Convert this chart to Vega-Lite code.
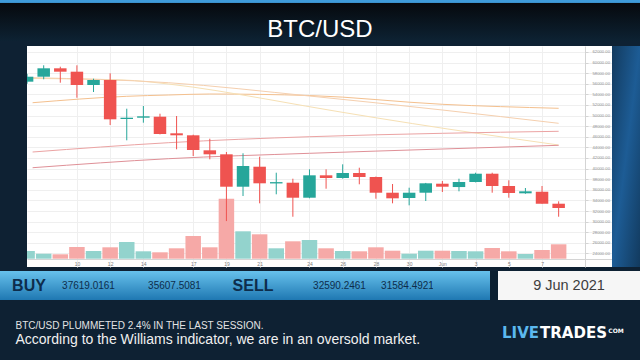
{
  "$schema": "https://vega.github.io/schema/vega-lite/v6.json",
  "background": "#0e2133",
  "padding": 0,
  "spacing": 4,
  "config": {"view": {"stroke": null}, "concat": {"spacing": 0}},
  "datasets": {
    "candles": [
      {"date": "2021-05-07", "open": 56400, "high": 57900, "low": 56000, "close": 57339, "volume": 15.4},
      {"date": "2021-05-08", "open": 57339, "high": 59490, "low": 56850, "close": 58924, "volume": 10},
      {"date": "2021-05-09", "open": 58924, "high": 59226, "low": 56207, "close": 58283, "volume": 8.8},
      {"date": "2021-05-10", "open": 58283, "high": 59490, "low": 53376, "close": 55773, "volume": 23.4},
      {"date": "2021-05-11", "open": 55773, "high": 56962, "low": 54452, "close": 56716, "volume": 15.4},
      {"date": "2021-05-12", "open": 56716, "high": 57980, "low": 48225, "close": 49300, "volume": 22.8},
      {"date": "2021-05-13", "open": 49357, "high": 51300, "low": 45338, "close": 49602, "volume": 33.4},
      {"date": "2021-05-14", "open": 49602, "high": 51810, "low": 48660, "close": 49866, "volume": 14.8},
      {"date": "2021-05-15", "open": 49791, "high": 50357, "low": 46450, "close": 46527, "volume": 12.8},
      {"date": "2021-05-16", "open": 46659, "high": 49922, "low": 43640, "close": 46282, "volume": 20.8},
      {"date": "2021-05-17", "open": 46282, "high": 46400, "low": 42375, "close": 43507, "volume": 45.4},
      {"date": "2021-05-18", "open": 43450, "high": 45640, "low": 41752, "close": 42696, "volume": 22.8},
      {"date": "2021-05-19", "open": 42696, "high": 43130, "low": 30100, "close": 36582, "volume": 120},
      {"date": "2021-05-20", "open": 36582, "high": 42885, "low": 34827, "close": 40488, "volume": 54.8},
      {"date": "2021-05-21", "open": 40357, "high": 42243, "low": 33450, "close": 37225, "volume": 48.8},
      {"date": "2021-05-22", "open": 37200, "high": 39225, "low": 35150, "close": 37450, "volume": 20.8},
      {"date": "2021-05-23", "open": 37338, "high": 38093, "low": 30920, "close": 34507, "volume": 34.8},
      {"date": "2021-05-24", "open": 34507, "high": 39865, "low": 34400, "close": 38733, "volume": 37.4},
      {"date": "2021-05-25", "open": 38733, "high": 39865, "low": 36205, "close": 38224, "volume": 20.8},
      {"date": "2021-05-26", "open": 38224, "high": 40808, "low": 38100, "close": 39167, "volume": 15.4},
      {"date": "2021-05-27", "open": 39167, "high": 40168, "low": 37036, "close": 38413, "volume": 14.8},
      {"date": "2021-05-28", "open": 38413, "high": 38500, "low": 34318, "close": 35450, "volume": 22.8},
      {"date": "2021-05-29", "open": 35450, "high": 37092, "low": 33450, "close": 34393, "volume": 16},
      {"date": "2021-05-30", "open": 34450, "high": 36395, "low": 33073, "close": 35450, "volume": 10},
      {"date": "2021-05-31", "open": 35450, "high": 37300, "low": 33884, "close": 37225, "volume": 16},
      {"date": "2021-06-01", "open": 37150, "high": 37658, "low": 35582, "close": 36582, "volume": 16},
      {"date": "2021-06-02", "open": 36520, "high": 38093, "low": 35714, "close": 37470, "volume": 15.4},
      {"date": "2021-06-03", "open": 37470, "high": 39225, "low": 37400, "close": 39035, "volume": 14.8},
      {"date": "2021-06-04", "open": 39035, "high": 39225, "low": 35450, "close": 36715, "volume": 21.4},
      {"date": "2021-06-05", "open": 36715, "high": 37790, "low": 34507, "close": 35395, "volume": 14.8},
      {"date": "2021-06-06", "open": 35337, "high": 36337, "low": 35250, "close": 35714, "volume": 9.4},
      {"date": "2021-06-07", "open": 35640, "high": 36715, "low": 33375, "close": 33375, "volume": 17.4},
      {"date": "2021-06-08", "open": 33375, "high": 33827, "low": 30920, "close": 32563, "volume": 28.8}
    ],
    "lines": [
      {"series": "A", "date": "2021-05-07T08:00:00Z", "price": 52433},
      {"series": "A", "date": "2021-05-13T00:00:00Z", "price": 53641},
      {"series": "A", "date": "2021-05-15T12:00:00Z", "price": 53886},
      {"series": "A", "date": "2021-05-18T00:00:00Z", "price": 54075},
      {"series": "A", "date": "2021-05-24T00:00:00Z", "price": 53792},
      {"series": "A", "date": "2021-06-01T00:00:00Z", "price": 52131},
      {"series": "A", "date": "2021-06-08T00:00:00Z", "price": 51376},
      {"series": "B", "date": "2021-05-07T08:00:00Z", "price": 57000},
      {"series": "B", "date": "2021-05-12T19:00:00Z", "price": 56716},
      {"series": "B", "date": "2021-05-15T12:00:00Z", "price": 55962},
      {"series": "B", "date": "2021-05-21T09:00:00Z", "price": 53131},
      {"series": "B", "date": "2021-05-23T18:00:00Z", "price": 51810},
      {"series": "B", "date": "2021-06-01T08:00:00Z", "price": 47470},
      {"series": "B", "date": "2021-06-08T00:00:00Z", "price": 44451},
      {"series": "C", "date": "2021-05-07T08:00:00Z", "price": 57150},
      {"series": "C", "date": "2021-05-15T12:00:00Z", "price": 56207},
      {"series": "C", "date": "2021-05-24T00:00:00Z", "price": 53697},
      {"series": "C", "date": "2021-06-01T00:00:00Z", "price": 51055},
      {"series": "C", "date": "2021-06-08T00:00:00Z", "price": 48546},
      {"series": "R1", "date": "2021-05-07T08:00:00Z", "price": 43130},
      {"series": "R1", "date": "2021-05-15T12:00:00Z", "price": 44885},
      {"series": "R1", "date": "2021-05-24T00:00:00Z", "price": 46017},
      {"series": "R1", "date": "2021-06-01T00:00:00Z", "price": 46659},
      {"series": "R1", "date": "2021-06-08T00:00:00Z", "price": 47036},
      {"series": "R2", "date": "2021-05-07T08:00:00Z", "price": 40167},
      {"series": "R2", "date": "2021-05-15T12:00:00Z", "price": 41866},
      {"series": "R2", "date": "2021-05-24T00:00:00Z", "price": 42885},
      {"series": "R2", "date": "2021-06-01T00:00:00Z", "price": 43696},
      {"series": "R2", "date": "2021-06-08T00:00:00Z", "price": 44394}
    ]
  },
  "vconcat": [
    {
      "width": 640, "height": 41,
      "view": {"stroke": null, "fill": {"gradient": "linear", "x1": 0, "y1": 0, "x2": 0, "y2": 1, "stops": [{"offset": 0, "color": "#3f9bd9"}, {"offset": 0.06, "color": "#3f9bd9"}, {"offset": 0.075, "color": "#06090d"}, {"offset": 1, "color": "#0d2233"}]}},
      "data": {"values": [{"t": "BTC/USD"}]},
      "mark": {"type": "text", "font": "Liberation Sans, sans-serif", "fontSize": 24, "color": "#ffffff", "baseline": "alphabetic", "dy": 16},
      "encoding": {"text": {"field": "t"}}
    },
    {
      "hconcat": [
        {"width": 27, "height": 221, "data": {"values": [{}]}, "mark": {"type": "text"}, "encoding": {"text": {"value": ""}}},
        {
          "width": 585, "height": 221,
          "view": {"fill": "#ffffff", "stroke": null},
          "resolve": {"scale": {"y": "independent"}},
          "layer": [
            {
              "data": {"name": "candles"},
              "transform": [{"calculate": "datum.close >= datum.open ? 'up' : 'down'", "as": "dir"}],
              "mark": {"type": "bar", "width": 15.5, "clip": true},
              "encoding": {
                "x": {"field": "date", "type": "temporal",
                  "scale": {"type": "utc", "domain": [{"year": 2021, "month": 5, "date": 7, "hours": 7, "minutes": 6, "utc": true}, {"year": 2021, "month": 6, "date": 10, "hours": 21, "minutes": 52, "utc": true}]},
                  "axis": {"orient": "bottom", "offset": -8,
                    "values": [{"year": 2021, "month": 5, "date": 10, "utc": true}, {"year": 2021, "month": 5, "date": 12, "utc": true}, {"year": 2021, "month": 5, "date": 14, "utc": true}, {"year": 2021, "month": 5, "date": 17, "utc": true}, {"year": 2021, "month": 5, "date": 19, "utc": true}, {"year": 2021, "month": 5, "date": 21, "utc": true}, {"year": 2021, "month": 5, "date": 24, "utc": true}, {"year": 2021, "month": 5, "date": 26, "utc": true}, {"year": 2021, "month": 5, "date": 28, "utc": true}, {"year": 2021, "month": 5, "date": 30, "utc": true}, {"year": 2021, "month": 6, "date": 1, "utc": true}, {"year": 2021, "month": 6, "date": 3, "utc": true}, {"year": 2021, "month": 6, "date": 5, "utc": true}, {"year": 2021, "month": 6, "date": 7, "utc": true}],
                    "labelExpr": "utcdate(datum.value) == 1 ? utcFormat(datum.value, '%b') : '' + utcdate(datum.value)",
                    "labelFontSize": 5, "labelColor": "#7d7d7d", "labelPadding": 2, "labelFont": "Liberation Sans, sans-serif",
                    "ticks": false, "domainColor": "#d4d4d4", "grid": true, "gridColor": "#efefef", "title": null, "labelFlush": false, "labelOverlap": false}},
                "y": {"field": "volume", "type": "quantitative", "scale": {"domain": [-16.6, 425.4], "nice": false, "zero": false}, "axis": null},
                "y2": {"datum": 0},
                "fill": {"field": "dir", "type": "nominal", "scale": {"domain": ["up", "down"], "range": ["#93d3cd", "#f6a9a7"]}, "legend": null}
              }
            },
            {
              "data": {"name": "lines"},
              "mark": {"type": "line", "strokeWidth": 1, "interpolate": "monotone", "clip": true},
              "encoding": {
                "x": {"field": "date", "type": "temporal"},
                "y": {"field": "price", "type": "quantitative", "scale": {"domain": [21434, 63132], "nice": false, "zero": false}, "axis": null},
                "stroke": {"field": "series", "type": "nominal", "scale": {"domain": ["A", "B", "C", "R1", "R2"], "range": ["#f4c08e", "#f6e0b4", "#f5cfae", "#eba3a3", "#df9097"]}, "legend": null}
              }
            },
            {
              "data": {"name": "candles"},
              "transform": [{"calculate": "datum.close >= datum.open ? 'up' : 'down'", "as": "dir"}],
              "mark": {"type": "rule", "strokeWidth": 1, "clip": true},
              "encoding": {
                "x": {"field": "date", "type": "temporal"},
                "y": {"field": "low", "type": "quantitative", "scale": {"domain": [21434, 63132], "nice": false, "zero": false}, "axis": null},
                "y2": {"field": "high"},
                "color": {"field": "dir", "type": "nominal", "scale": {"domain": ["up", "down"], "range": ["#26a69a", "#ef5350"]}, "legend": null}
              }
            },
            {
              "data": {"name": "candles"},
              "transform": [{"calculate": "datum.close >= datum.open ? 'up' : 'down'", "as": "dir"}],
              "mark": {"type": "bar", "width": 12.5, "clip": true},
              "encoding": {
                "x": {"field": "date", "type": "temporal"},
                "y": {"field": "open", "type": "quantitative", "scale": {"domain": [21434, 63132], "nice": false, "zero": false},
                  "axis": {"orient": "right", "offset": -27, "values": [24000, 26000, 28000, 30000, 32000, 34000, 36000, 38000, 40000, 42000, 44000, 46000, 48000, 50000, 52000, 54000, 56000, 58000, 60000, 62000],
                    "format": ".2f", "labelFontSize": 4.2, "labelColor": "#8c8c8c", "labelFont": "Liberation Sans, sans-serif", "tickSize": 3, "tickColor": "#d4d4d4", "labelPadding": 4, "domainColor": "#d4d4d4", "grid": true, "gridColor": "#efefef", "title": null, "labelOverlap": false}},
                "y2": {"field": "close"},
                "color": {"field": "dir", "type": "nominal", "scale": {"domain": ["up", "down"], "range": ["#26a69a", "#ef5350"]}, "legend": null}
              }
            }
          ]
        },
        {"width": 28, "height": 221, "view": {"stroke": null, "fill": {"gradient": "linear", "x1": 0, "y1": 0, "x2": 1, "y2": 1, "stops": [{"offset": 0, "color": "#123a5e"}, {"offset": 0.5, "color": "#1d5c95"}, {"offset": 1, "color": "#123a5e"}]}},
          "data": {"values": [{}]}, "mark": {"type": "text"}, "encoding": {"text": {"value": ""}}}
      ],
      "spacing": 0, "bounds": "flush"
    },
    {
      "hconcat": [
        {"width": 58, "height": 29, "view": {"stroke": null, "fill": {"gradient": "linear", "x1": 0, "y1": 0, "x2": 0, "y2": 1, "stops": [{"offset": 0, "color": "#67c1ec"}, {"offset": 1, "color": "#1f78b2"}]}},
          "data": {"values": [{"t": "BUY"}]}, "mark": {"type": "text", "font": "Liberation Sans, sans-serif", "fontSize": 16, "fontWeight": "bold", "color": "#0d2d4c"}, "encoding": {"text": {"field": "t"}}},
        {"width": 61, "height": 29, "view": {"stroke": null, "fill": {"gradient": "linear", "x1": 0, "y1": 0, "x2": 0, "y2": 1, "stops": [{"offset": 0, "color": "#67c1ec"}, {"offset": 1, "color": "#1f78b2"}]}},
          "data": {"values": [{"t": "37619.0161"}]}, "mark": {"type": "text", "font": "Liberation Sans, sans-serif", "fontSize": 10, "color": "#0d2d4c"}, "encoding": {"text": {"field": "t"}}},
        {"width": 111, "height": 29, "view": {"stroke": null, "fill": {"gradient": "linear", "x1": 0, "y1": 0, "x2": 0, "y2": 1, "stops": [{"offset": 0, "color": "#67c1ec"}, {"offset": 1, "color": "#1f78b2"}]}},
          "data": {"values": [{"t": "35607.5081"}]}, "mark": {"type": "text", "font": "Liberation Sans, sans-serif", "fontSize": 10, "color": "#0d2d4c"}, "encoding": {"text": {"field": "t"}}},
        {"width": 46, "height": 29, "view": {"stroke": null, "fill": {"gradient": "linear", "x1": 0, "y1": 0, "x2": 0, "y2": 1, "stops": [{"offset": 0, "color": "#67c1ec"}, {"offset": 1, "color": "#1f78b2"}]}},
          "data": {"values": [{"t": "SELL"}]}, "mark": {"type": "text", "font": "Liberation Sans, sans-serif", "fontSize": 16, "fontWeight": "bold", "color": "#0d2d4c"}, "encoding": {"text": {"field": "t"}}},
        {"width": 21, "height": 29, "view": {"stroke": null, "fill": {"gradient": "linear", "x1": 0, "y1": 0, "x2": 0, "y2": 1, "stops": [{"offset": 0, "color": "#67c1ec"}, {"offset": 1, "color": "#1f78b2"}]}},
          "data": {"values": [{}]}, "mark": {"type": "text"}, "encoding": {"text": {"value": ""}}},
        {"width": 85, "height": 29, "view": {"stroke": null, "fill": {"gradient": "linear", "x1": 0, "y1": 0, "x2": 0, "y2": 1, "stops": [{"offset": 0, "color": "#67c1ec"}, {"offset": 1, "color": "#1f78b2"}]}},
          "data": {"values": [{"t": "32590.2461"}]}, "mark": {"type": "text", "font": "Liberation Sans, sans-serif", "fontSize": 10, "color": "#0d2d4c"}, "encoding": {"text": {"field": "t"}}},
        {"width": 51, "height": 29, "view": {"stroke": null, "fill": {"gradient": "linear", "x1": 0, "y1": 0, "x2": 0, "y2": 1, "stops": [{"offset": 0, "color": "#67c1ec"}, {"offset": 1, "color": "#1f78b2"}]}},
          "data": {"values": [{"t": "31584.4921"}]}, "mark": {"type": "text", "font": "Liberation Sans, sans-serif", "fontSize": 10, "color": "#0d2d4c"}, "encoding": {"text": {"field": "t"}}},
        {"width": 57, "height": 29, "view": {"stroke": null, "fill": {"gradient": "linear", "x1": 0, "y1": 0, "x2": 0, "y2": 1, "stops": [{"offset": 0, "color": "#67c1ec"}, {"offset": 1, "color": "#1f78b2"}]}},
          "data": {"values": [{}]}, "mark": {"type": "text"}, "encoding": {"text": {"value": ""}}},
        {"width": 8, "height": 29, "view": {"stroke": null, "fill": "#0b1f30"},
          "data": {"values": [{}]}, "mark": {"type": "text"}, "encoding": {"text": {"value": ""}}},
        {"width": 142, "height": 29, "view": {"stroke": null, "fill": "#f6f6f6"},
          "data": {"values": [{"t": "9 Jun 2021"}]}, "mark": {"type": "text", "font": "Liberation Sans, sans-serif", "fontSize": 14.5, "color": "#3d3d3d"}, "encoding": {"text": {"field": "t"}}}
      ],
      "spacing": 0, "bounds": "flush"
    },
    {
      "hconcat": [
        {"width": 31, "height": 57,
          "layer": [
            {"data": {"values": [{"t": "BTC/USD PLUMMETED 2.4% IN THE LAST SESSION."}]}, "mark": {"type": "text", "align": "left", "baseline": "bottom", "dy": -2, "font": "Liberation Sans, sans-serif", "fontSize": 10, "color": "#e3e3e3"}, "encoding": {"text": {"field": "t"}}},
            {"data": {"values": [{"t": "According to the Williams indicator, we are in an oversold market."}]}, "mark": {"type": "text", "align": "left", "baseline": "top", "font": "Liberation Sans, sans-serif", "fontSize": 14, "color": "#f0f0f0"}, "encoding": {"text": {"field": "t"}}}
          ]},
        {"width": 471, "height": 57, "data": {"values": [{}]}, "mark": {"type": "text"}, "encoding": {"text": {"value": ""}}},
        {"width": 37, "height": 57, "data": {"values": [{"t": "LIVE"}]}, "mark": {"type": "text", "font": "DejaVu Sans, sans-serif", "fontSize": 15, "fontWeight": "bold", "color": "#5bb8ee"}, "encoding": {"text": {"field": "t"}}},
        {"width": 69, "height": 57, "data": {"values": [{"t": "TRADES"}]}, "mark": {"type": "text", "font": "DejaVu Sans, sans-serif", "fontSize": 15, "fontWeight": "bold", "color": "#ffffff"}, "encoding": {"text": {"field": "t"}}},
        {"width": 16, "height": 57, "data": {"values": [{"t": "COM"}]}, "mark": {"type": "text", "font": "DejaVu Sans, sans-serif", "fontSize": 6, "fontWeight": "bold", "color": "#ffffff", "baseline": "alphabetic"}, "encoding": {"text": {"field": "t"}}}
      ],
      "spacing": 0, "bounds": "flush"
    }
  ]
}
